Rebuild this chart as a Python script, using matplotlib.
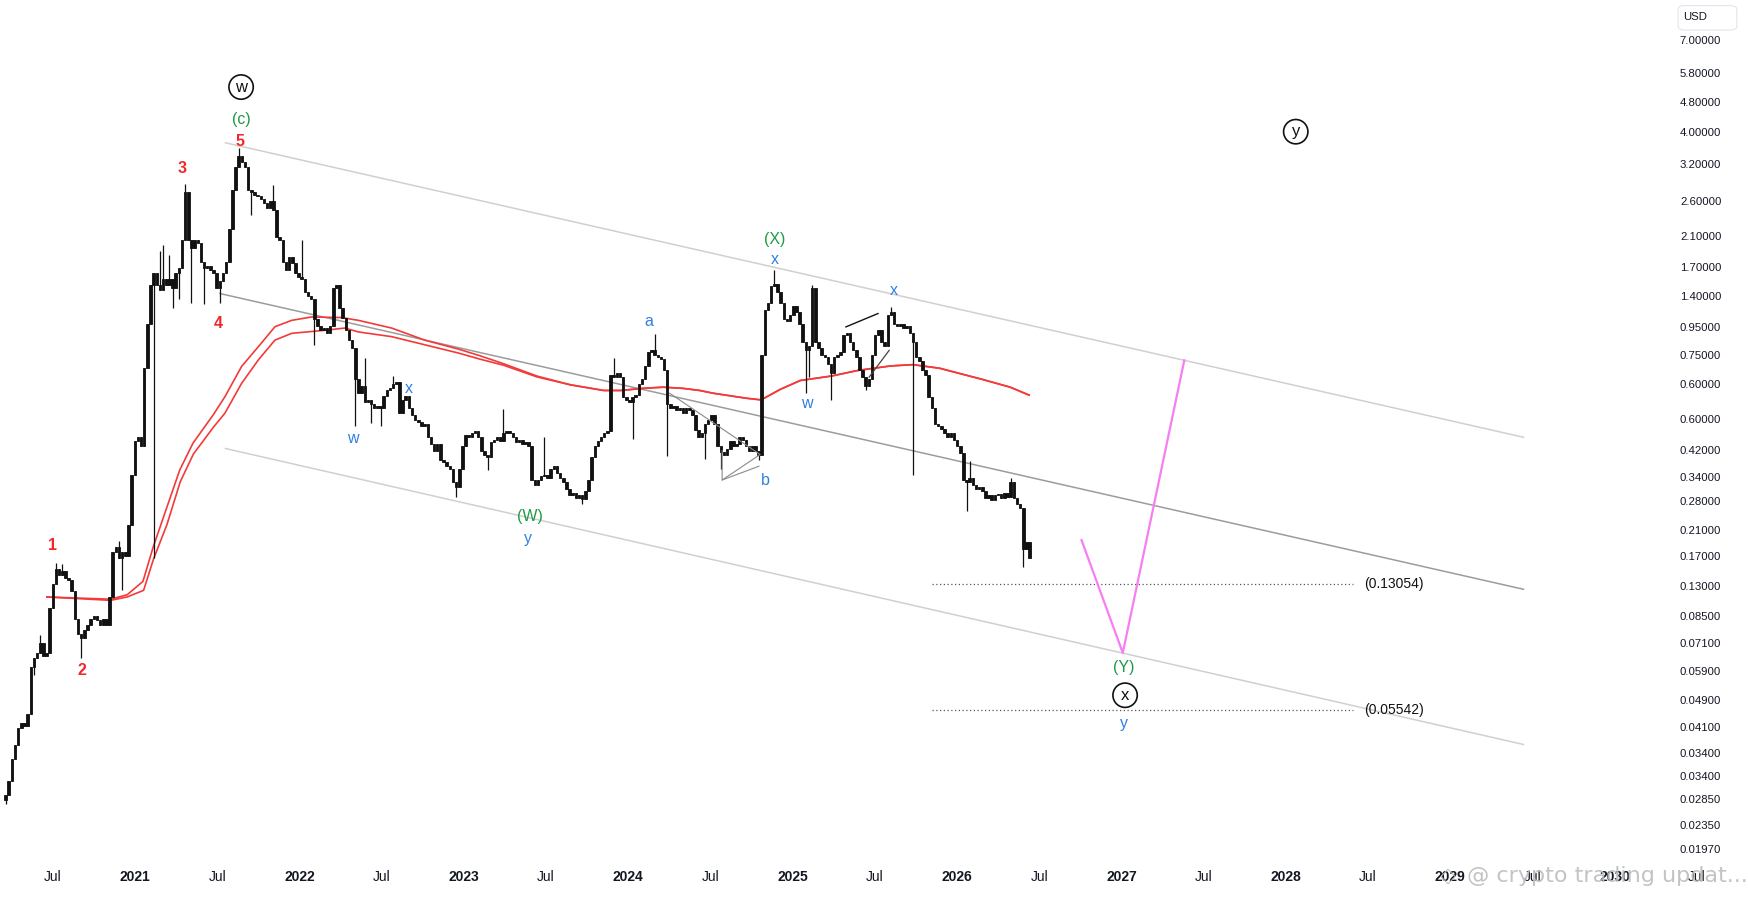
import numpy as np
import matplotlib
matplotlib.use("Agg")
import matplotlib.pyplot as plt
from matplotlib.patches import FancyBboxPatch

plt.rcParams['font.family'] = ['Liberation Sans', 'DejaVu Sans']

# Weekly candles, first one mid March 2020, last one June 2026
FIRST_WEEK = 2020.2125
WEEKS_PER_YEAR = 52.18
FIRST_OPEN = 0.0300

CLOSES = [
    0.0311, 0.0341, 0.0397, 0.0435, 0.0491, 0.0506, 0.0498, 0.0538, 0.0740, 0.0786,
    0.0816, 0.0874, 0.0798, 0.0816, 0.1105, 0.1306, 0.1441, 0.1387, 0.1419, 0.1356,
    0.1336, 0.1239, 0.1024, 0.0929, 0.0901, 0.0950, 0.0987, 0.1024, 0.1048, 0.1017,
    0.0987, 0.1024, 0.0987, 0.1193, 0.1617, 0.1680, 0.1554, 0.1617, 0.1581, 0.1950,
    0.274, 0.345, 0.353, 0.332, 0.564, 0.764, 0.996, 1.074, 0.996, 0.959,
    1.034, 0.996, 1.034, 0.973, 1.074, 1.116, 1.349, 1.868, 1.349, 1.279,
    1.349, 1.318, 1.159, 1.116, 1.133, 1.099, 1.074, 0.973, 1.018, 1.074,
    1.159, 1.455, 1.897, 2.207, 2.381, 2.292, 2.207, 1.897, 1.868, 1.826,
    1.813, 1.785, 1.732, 1.680, 1.758, 1.654, 1.380, 1.349, 1.159, 1.099,
    1.204, 1.150, 1.074, 1.050, 1.034, 0.945, 0.923, 0.903, 0.787, 0.753,
    0.730, 0.741, 0.719, 0.753, 0.973, 0.996, 0.849, 0.793, 0.730, 0.682,
    0.647, 0.523, 0.478, 0.500, 0.450, 0.456, 0.443, 0.430, 0.437, 0.430,
    0.467, 0.485, 0.492, 0.507, 0.515, 0.417, 0.456, 0.467, 0.430, 0.411,
    0.398, 0.392, 0.380, 0.386, 0.353, 0.337, 0.322, 0.337, 0.303, 0.299,
    0.290, 0.285, 0.260, 0.252, 0.285, 0.332, 0.358, 0.353, 0.363, 0.369,
    0.353, 0.322, 0.312, 0.308, 0.342, 0.347, 0.353, 0.345, 0.363, 0.369,
    0.363, 0.353, 0.342, 0.347, 0.337, 0.342, 0.332, 0.264, 0.256, 0.264,
    0.272, 0.274, 0.268, 0.285, 0.290, 0.276, 0.268, 0.260, 0.248, 0.238,
    0.241, 0.234, 0.238, 0.232, 0.245, 0.264, 0.308, 0.332, 0.345, 0.353,
    0.363, 0.369, 0.539, 0.531, 0.547, 0.531, 0.463, 0.456, 0.450, 0.463,
    0.470, 0.507, 0.523, 0.573, 0.628, 0.637, 0.618, 0.609, 0.600, 0.556,
    0.443, 0.430, 0.437, 0.424, 0.430, 0.417, 0.430, 0.424, 0.411, 0.372,
    0.353, 0.363, 0.386, 0.398, 0.411, 0.386, 0.332, 0.320, 0.312, 0.327,
    0.345, 0.332, 0.337, 0.353, 0.347, 0.332, 0.322, 0.332, 0.322, 0.312,
    0.618, 0.837, 0.876, 0.988, 1.003, 0.945, 0.876, 0.787, 0.775, 0.812,
    0.862, 0.824, 0.764, 0.676, 0.637, 0.657, 0.973, 0.676, 0.647, 0.618,
    0.609, 0.582, 0.547, 0.609, 0.618, 0.628, 0.708, 0.719, 0.676, 0.637,
    0.609, 0.556, 0.531, 0.500, 0.523, 0.618, 0.708, 0.730, 0.676, 0.657,
    0.812, 0.824, 0.764, 0.753, 0.764, 0.741, 0.753, 0.719, 0.676, 0.609,
    0.591, 0.556, 0.539, 0.463, 0.430, 0.386, 0.380, 0.374, 0.363, 0.353,
    0.363, 0.347, 0.332, 0.317, 0.264, 0.260, 0.268, 0.256, 0.248, 0.252,
    0.245, 0.234, 0.238, 0.231, 0.238, 0.240, 0.234, 0.241, 0.236, 0.260,
    0.234, 0.224, 0.219, 0.165, 0.173, 0.1554,
]

# the wicks that stick out, by candle index
WICK_HIGHS = {11: 0.092, 16: 0.150, 18: 0.149, 36: 0.174, 49: 1.25, 50: 1.30,
              52: 1.22, 57: 1.97, 74: 2.51, 85: 1.955, 94: 1.35, 114: 0.604,
              123: 0.535, 158: 0.427, 171: 0.353, 193: 0.604, 206: 0.714,
              244: 1.099, 256: 0.996, 281: 0.856, 306: 0.300, 319: 0.268}
WICK_LOWS = {0: 0.0293, 9: 0.070, 24: 0.0786, 37: 0.125, 47: 0.155, 53: 0.85,
             55: 0.90, 59: 0.88, 63: 0.87, 68: 0.88, 78: 1.60, 98: 0.66,
             111: 0.380, 116: 0.39, 119: 0.38, 143: 0.236, 153: 0.283,
             183: 0.225, 199: 0.35, 210: 0.31, 222: 0.305, 227: 0.285,
             239: 0.303, 254: 0.478, 255: 0.53, 262: 0.456, 273: 0.485,
             288: 0.274, 305: 0.214, 323: 0.146}

# two red moving averages (year, price)
MA_FAST_T = [2020.464, 2020.851, 2020.952, 2021.048, 2021.109, 2021.190, 2021.272,
             2021.353, 2021.475, 2021.547, 2021.648, 2021.750, 2021.851, 2021.953,
             2022.073, 2022.256, 2022.358, 2022.561, 2022.765, 2022.969, 2023.098,
             2023.240, 2023.444, 2023.648, 2023.851, 2023.953, 2024.089, 2024.211,
             2024.333, 2024.435, 2024.517, 2024.720, 2024.808, 2024.924, 2025.046,
             2025.236, 2025.399, 2025.596, 2025.732, 2025.894, 2026.153, 2026.323,
             2026.438]
MA_FAST_P = [0.1193, 0.1175, 0.1211, 0.1326, 0.1667, 0.2169, 0.2828,
             0.3395, 0.4107, 0.4652, 0.571, 0.653, 0.748, 0.781,
             0.799, 0.796, 0.781, 0.741, 0.682, 0.642, 0.614,
             0.582, 0.535, 0.504, 0.485, 0.485, 0.492, 0.496,
             0.492, 0.485, 0.476, 0.460, 0.455, 0.4885, 0.519,
             0.535, 0.556, 0.573, 0.578, 0.564, 0.523, 0.496,
             0.470]
MA_SLOW_T = [2020.464, 2020.851, 2020.952, 2021.052, 2021.112, 2021.194, 2021.275,
             2021.355, 2021.475, 2021.547, 2021.648, 2021.750, 2021.851, 2021.953,
             2022.155, 2022.275, 2022.358, 2022.561, 2022.765, 2022.969, 2023.098,
             2023.240, 2023.444, 2023.648, 2023.851, 2023.953, 2024.089, 2024.211,
             2024.333, 2024.435, 2024.517, 2024.720, 2024.808, 2024.924, 2025.046,
             2025.236, 2025.399, 2025.596, 2025.732, 2025.894, 2026.153, 2026.323,
             2026.438]
MA_SLOW_P = [0.1193, 0.1166, 0.1193, 0.1248, 0.1542, 0.195, 0.261,
             0.315, 0.377, 0.416, 0.509, 0.597, 0.683, 0.715,
             0.730, 0.741, 0.722, 0.699, 0.661, 0.625, 0.600,
             0.576, 0.532, 0.504, 0.485, 0.485, 0.492, 0.496,
             0.492, 0.485, 0.476, 0.460, 0.455, 0.4885, 0.519,
             0.535, 0.556, 0.573, 0.578, 0.564, 0.523, 0.496,
             0.470]

# descending channel
CHANNEL_T = [2021.55, 2029.445]
CHANNEL_UPPER = [2.608, 0.353]
CHANNEL_MID_T = [2021.516, 2029.445]
CHANNEL_MID = [0.937, 0.1257]
CHANNEL_LOWER = [0.327, 0.0438]

# target levels
LEVELS = [0.13054, 0.05542]
LEVEL_T = [2025.847, 2028.407]

# projected path
PATH_T = [2026.757, 2027.008, 2027.382]
PATH_P = [0.1756, 0.0816, 0.595]

# small drawings on the candles
TRIANGLE_T = [2024.252, 2024.802, 2024.571, 2024.571]
TRIANGLE_P = [0.476, 0.314, 0.264, 0.322]
TRIANGLE_B_T = [2024.571, 2024.795]
TRIANGLE_B_P = [0.264, 0.290]
FLAG_T = [2025.324, 2025.519]
FLAG_P = [0.747, 0.818]
FLAG2_T = [2025.465, 2025.587]
FLAG2_P = [0.531, 0.637]

# wave labels: (text, year, price, colour)
RED = "#f0282d"
GREEN = "#1e9a46"
BLUE = "#2f7fe0"
WAVE_LABELS = [
    ("1", 2020.498, 0.169, RED), ("2", 2020.674, 0.0722, RED),
    ("3", 2021.285, 2.19, RED), ("4", 2021.509, 0.764, RED),
    ("5", 2021.638, 2.628, RED),
    ("(c)", 2021.645, 3.057, GREEN), ("(X)", 2024.890, 1.349, GREEN),
    ("(W)", 2023.403, 0.206, GREEN), ("(Y)", 2027.015, 0.0740, GREEN),
    ("w", 2022.324, 0.350, BLUE), ("x", 2022.663, 0.492, BLUE),
    ("y", 2023.390, 0.177, BLUE), ("a", 2024.123, 0.775, BLUE),
    ("b", 2024.836, 0.264, BLUE), ("x", 2024.890, 1.177, BLUE),
    ("w", 2025.087, 0.443, BLUE), ("x", 2025.617, 0.959, BLUE),
    ("y", 2027.015, 0.0506, BLUE),
]
CIRCLED = [("w", 2021.645, 3.809), ("x", 2027.022, 0.0612), ("y", 2028.060, 2.813)]

# the right price scale as printed
PRICE_LABELS = ["7.00000", "5.80000", "4.80000", "4.00000", "3.20000", "2.60000",
                "2.10000", "1.70000", "1.40000", "0.95000", "0.75000", "0.60000",
                "0.60000", "0.42000", "0.34000", "0.28000", "0.21000", "0.17000",
                "0.13000", "0.08500", "0.07100", "0.05900", "0.04900", "0.04100",
                "0.03400", "0.03400", "0.02850", "0.02350", "0.01970"]
PRICE_LABEL_ROWS = [0.0459, 0.0819, 0.1142, 0.1477, 0.1837, 0.2247, 0.2632, 0.2979,
                    0.3302, 0.3650, 0.3960, 0.4283, 0.4667, 0.5015, 0.5313, 0.5586,
                    0.5909, 0.6194, 0.6529, 0.6865, 0.7162, 0.7473, 0.7796, 0.8093,
                    0.8391, 0.8640, 0.8900, 0.9186, 0.9459]

TIME_TICKS = [2020.5, 2021, 2021.5, 2022, 2022.5, 2023, 2023.5, 2024, 2024.5, 2025,
              2025.5, 2026, 2026.5, 2027, 2027.5, 2028, 2028.5, 2029, 2029.5, 2030,
              2030.5]
TIME_LABELS = ["Jul", "2021", "Jul", "2022", "Jul", "2023", "Jul", "2024", "Jul",
               "2025", "Jul", "2026", "Jul", "2027", "Jul", "2028", "Jul", "2029",
               "Jul", "2030", "Jul"]


def draw_candles(ax):
    closes = np.array(CLOSES)
    opens = np.concatenate([[FIRST_OPEN], closes[:-1]])
    body_lo = np.minimum(opens, closes)
    body_hi = np.maximum(opens, closes)
    highs = body_hi.copy()
    lows = body_lo.copy()
    for i, v in WICK_HIGHS.items():
        highs[i] = v
    for i, v in WICK_LOWS.items():
        lows[i] = v
    t = FIRST_WEEK + np.arange(len(closes)) / WEEKS_PER_YEAR
    ax.vlines(t, lows, highs, color="#111111", lw=0.9, zorder=3)
    ax.bar(t, body_hi - body_lo, bottom=body_lo, width=0.8 / WEEKS_PER_YEAR,
           color="#111111", edgecolor="#111111", linewidth=0.6, zorder=3)


def main():
    fig = plt.figure(figsize=(17.49, 8.99), dpi=100)
    ax = fig.add_axes([0, 0.0416, 1, 0.9584])
    ax.set_yscale("log")
    ax.set_xlim(2020.1785, 2030.817)
    ax.set_ylim(0.01977, 6.88)
    for s in ax.spines.values():
        s.set_visible(False)
    ax.set_yticks([])
    ax.set_yticks([], minor=True)

    # channel
    ax.plot(CHANNEL_T, CHANNEL_UPPER, color="#d0d0d0", lw=1.1, zorder=1)
    ax.plot(CHANNEL_MID_T, CHANNEL_MID, color="#9c9c9c", lw=1.1, zorder=1)
    ax.plot(CHANNEL_T, CHANNEL_LOWER, color="#d0d0d0", lw=1.1, zorder=1)

    # moving averages
    ax.plot(MA_FAST_T, MA_FAST_P, color="#f23a3a", lw=1.2, zorder=2)
    ax.plot(MA_SLOW_T, MA_SLOW_P, color="#f23a3a", lw=1.2, zorder=2)

    draw_candles(ax)

    # small drawings
    ax.plot(TRIANGLE_T, TRIANGLE_P, color="#8a8a8a", lw=0.8, zorder=4)
    ax.plot(TRIANGLE_B_T, TRIANGLE_B_P, color="#8a8a8a", lw=0.8, zorder=4)
    ax.plot(FLAG_T, FLAG_P, color="#111111", lw=1.0, zorder=4)
    ax.plot(FLAG2_T, FLAG2_P, color="#444444", lw=0.9, zorder=4)

    # target levels
    for lvl in LEVELS:
        ax.plot(LEVEL_T, [lvl, lvl], color="#555555", lw=0.9, ls=(0, (1, 2)), zorder=2)
        ax.text(LEVEL_T[1] + 0.07, lvl, f"({lvl:.5f})", fontsize=10, color="#111111",
                ha="left", va="center")

    # projection
    ax.plot(PATH_T, PATH_P, color="#f77ef2", lw=1.6, zorder=4)

    for txt, t, p, col in WAVE_LABELS:
        bold = col == RED
        ax.text(t, p, txt, color=col, fontsize=11.5, ha="center", va="center",
                fontweight="bold" if bold else "normal", zorder=5)
    for txt, t, p in CIRCLED:
        ax.text(t, p, txt, color="#111111", fontsize=12, ha="center", va="center",
                zorder=5, bbox=dict(boxstyle="circle,pad=0.28", fc="white",
                                    ec="#111111", lw=1.2))

    # time axis
    ax.set_xticks(TIME_TICKS)
    ax.set_xticklabels(TIME_LABELS)
    ax.tick_params(axis="x", length=0, pad=6, labelsize=10, labelcolor="#131722")
    for lab in ax.get_xticklabels():
        lab.set_family(["Liberation Sans Narrow", "Liberation Sans", "DejaVu Sans"])
        if lab.get_text() != "Jul":
            lab.set_fontweight("bold")

    # price scale
    for txt, row in zip(PRICE_LABELS, PRICE_LABEL_ROWS):
        fig.text(0.9605, 1 - row, txt, fontsize=8.2, color="#131722",
                 ha="left", va="center")
    box = FancyBboxPatch((0.9595, 0.9666), 0.0335, 0.0272,
                         boxstyle="round,pad=0,rounding_size=0.004",
                         transform=fig.transFigure, fc="white", ec="#e3e5ea", lw=0.8)
    fig.patches.append(box)
    fig.text(0.9625, 0.9807, "USD", fontsize=8.2, color="#131722", ha="left",
             va="center")

    # watermark, drawn over the last time labels as in the original
    fig.text(0.8277, 0.0256, "\u25c7", fontsize=15, color="#bdbdbd", ha="center",
             va="center", family="DejaVu Sans", alpha=0.9)
    fig.text(0.999, 0.0256, "@ crypto trading updat...", fontsize=16,
             color="#bdbdbd", ha="right", va="center", family="DejaVu Sans",
             alpha=0.9)

    fig.savefig("out.png", dpi=100, facecolor="white")


if __name__ == "__main__":
    main()
